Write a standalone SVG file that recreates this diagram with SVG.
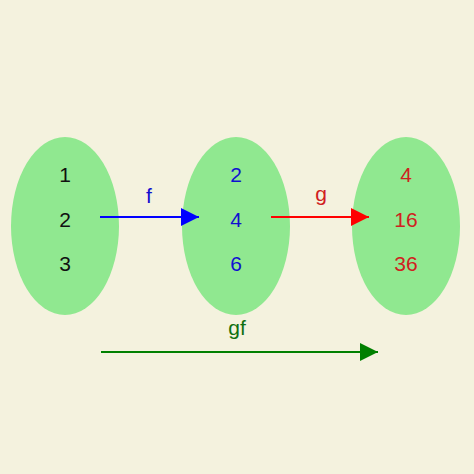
<svg xmlns="http://www.w3.org/2000/svg" width="474" height="474" viewBox="0 0 474 474">
  <defs>
    <style>
      .set { fill: #90e890; }
      text { font-family: "Liberation Sans", Arial, sans-serif; font-size: 21px; text-anchor: middle; }
      .k { fill: #111111; }
      .b { fill: #1010d0; }
      .r { fill: #d02020; }
      .g { fill: #107010; }
    </style>
    <marker id="headBlue" markerWidth="18" markerHeight="18" viewBox="0 0 18 18" refX="18" refY="9" orient="auto" markerUnits="userSpaceOnUse">
      <path d="M0,0 L18,9 L0,18 Z" fill="#0000ff"/>
    </marker>
    <marker id="headRed" markerWidth="18" markerHeight="18" viewBox="0 0 18 18" refX="18" refY="9" orient="auto" markerUnits="userSpaceOnUse">
      <path d="M0,0 L18,9 L0,18 Z" fill="#ff0000"/>
    </marker>
    <marker id="headGreen" markerWidth="18" markerHeight="18" viewBox="0 0 18 18" refX="18" refY="9" orient="auto" markerUnits="userSpaceOnUse">
      <path d="M0,0 L18,9 L0,18 Z" fill="#008000"/>
    </marker>
  </defs>

  <rect width="474" height="474" fill="#f4f2de"/>

  <g id="setA">
    <ellipse class="set" cx="65" cy="226" rx="54" ry="89"/>
    <text class="k" x="65" y="182">1</text>
    <text class="k" x="65" y="227">2</text>
    <text class="k" x="65" y="271">3</text>
  </g>

  <g id="setB">
    <ellipse class="set" cx="236" cy="226" rx="54" ry="89"/>
    <text class="b" x="236" y="182">2</text>
    <text class="b" x="236" y="227">4</text>
    <text class="b" x="236" y="271">6</text>
  </g>

  <g id="setC">
    <ellipse class="set" cx="406" cy="226" rx="54" ry="89"/>
    <text class="r" x="406" y="182">4</text>
    <text class="r" x="406" y="227">16</text>
    <text class="r" x="406" y="271">36</text>
  </g>

  <g id="connectors" stroke-width="2.2">
    <line x1="100" y1="217" x2="199" y2="217" stroke="#0000ff" marker-end="url(#headBlue)"/>
    <text class="b" x="149" y="203" stroke="none">f</text>
    <line x1="271" y1="217" x2="369" y2="217" stroke="#ff0000" marker-end="url(#headRed)"/>
    <text class="r" x="321" y="201" stroke="none">g</text>
    <line x1="101" y1="352" x2="378" y2="352" stroke="#008000" marker-end="url(#headGreen)"/>
    <text class="g" x="237" y="335" stroke="none">gf</text>
  </g>
</svg>
